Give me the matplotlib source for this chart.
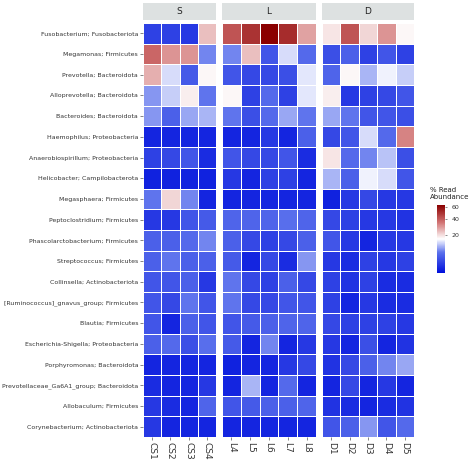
import numpy as np
import matplotlib.pyplot as plt
from matplotlib.colors import LinearSegmentedColormap, PowerNorm

taxa = ['Fusobacterium; Fusobacteriota', 'Megamonas; Firmicutes', 'Prevotella; Bacteroidota',
        'Alloprevotella; Bacteroidota', 'Bacteroides; Bacteroidota', 'Haemophilus; Proteobacteria',
        'Anaerobiospirillum; Proteobacteria', 'Helicobacter; Campilobacterota', 'Megasphaera; Firmicutes',
        'Peptoclostridium; Firmicutes', 'Phascolarctobacterium; Firmicutes', 'Streptococcus; Firmicutes',
        'Collinsella; Actinobacteriota', '[Ruminococcus]_gnavus_group; Firmicutes', 'Blautia; Firmicutes',
        'Escherichia-Shigella; Proteobacteria', 'Porphyromonas; Bacteroidota',
        'Prevotellaceae_Ga6A1_group; Bacteroidota', 'Allobaculum; Firmicutes',
        'Corynebacterium; Actinobacteriota']

s_samples = ['CS1', 'CS2', 'CS3', 'CS4']
l_samples = ['L4', 'L5', 'L6', 'L7', 'L8']
d_samples = ['D1', 'D2', 'D3', 'D4', 'D5']

s_values = [
    [1.5, 1.5, 1, 24], [38, 30, 30, 7], [26, 13, 3.5, 17], [8, 12, 18, 6], [8, 4, 9, 10],
    [0.3, 0.3, 0.3, 0.3], [1.5, 2, 3, 0.5], [0.2, 0.2, 0.2, 0.2], [6, 21, 7, 0.3], [1, 1, 3, 3.5],
    [4, 4, 5, 7], [4, 6, 4, 4], [3, 3, 4, 1], [3, 2, 6, 3], [3, 0.3, 4, 3],
    [4, 5, 2.5, 5.5], [0.3, 0.3, 0.3, 0.3], [0.5, 0.3, 0.3, 1], [1, 0.5, 0.3, 4.5], [1, 0.3, 0.3, 0.3]]
l_values = [
    [42, 50, 64, 52, 28], [7, 24, 3, 13, 5], [3, 2, 2, 2.5, 14], [17, 1.5, 5, 1.5, 14], [6, 2.5, 5, 9, 6],
    [0.3, 0.3, 1, 0.3, 4], [3, 2, 2, 3, 0.5], [1, 0.3, 1.5, 1.5, 0.3], [0.3, 0.3, 0.3, 0.3, 0.3],
    [4.5, 4.5, 4.5, 5.5, 4.5], [4, 2, 1.5, 2, 4], [3.5, 0.3, 2, 0.5, 8], [6, 2, 1.5, 4, 2],
    [6, 2, 2, 3, 3], [3, 3.5, 4, 4.5, 4.5], [3.5, 0.3, 7, 0.3, 1], [0.2, 0.3, 0.3, 1, 2],
    [0.3, 10, 0.3, 5, 0.3], [3, 3.5, 4, 4, 4.5], [0.3, 0.3, 0.3, 0.3, 0.3]]
d_values = [
    [19, 42, 21, 30, 17], [2.5, 4, 1.5, 3, 1.5], [4.5, 17, 10, 15, 12], [18, 1, 1.5, 2, 3],
    [9, 6, 3, 3, 2.5], [2, 3, 13, 5, 33], [19, 5, 7, 11, 2.5], [10, 4, 15, 13, 3],
    [0.2, 1, 2, 1, 1], [2, 1.5, 1, 1, 0.8], [3, 1, 0.3, 1, 1], [1, 0.5, 1.5, 1, 1.5],
    [1.5, 0.8, 1.5, 0.5, 0.5], [1.5, 0.3, 1, 0.5, 0.5], [2, 1.5, 1.5, 1.5, 1],
    [1, 0.3, 2.5, 0.3, 0.8], [0.8, 2, 4, 7, 9], [0.3, 2, 0.3, 1, 0.3], [0.8, 0.5, 0.3, 0.5, 0.8],
    [3, 4, 8, 3, 5]]

cmap = LinearSegmentedColormap.from_list(
    'bwr2', [(0, '#0010dc'), (0.3, '#5a70ec'), (0.5, '#ffffff'), (0.75, '#d07070'), (1, '#8b0000')])
norm = PowerNorm(0.5, vmin=0, vmax=64)

fig = plt.figure(figsize=(4.74, 4.67), dpi=100)
W, H = 474, 467
panels = [('S', s_samples, s_values, 143, 216), ('L', l_samples, l_values, 222, 316),
          ('D', d_samples, d_values, 322, 414)]
top, bottom = 23, 437
for name, samples, vals, x0, x1 in panels:
    ax = fig.add_axes([x0 / W, 1 - bottom / H, (x1 - x0) / W, (bottom - top) / H])
    data = np.array(vals)
    mesh = ax.pcolormesh(data, cmap=cmap, norm=norm, edgecolor='white', linewidth=0.4)
    ax.set_ylim(len(taxa), 0)
    ax.set_xticks(np.arange(len(samples)) + 0.5)
    ax.set_xticklabels(samples, rotation=-90, fontsize=6.5, color='#333333')
    if name == 'S':
        ax.set_yticks(np.arange(len(taxa)) + 0.5)
        ax.set_yticklabels(taxa, fontsize=4.5, color='#333333')
    else:
        ax.set_yticks([])
    ax.tick_params(length=2, width=0.5, color='#555555', pad=1.5)
    for sp in ax.spines.values():
        sp.set_visible(False)
    strip = fig.add_axes([x0 / W, 1 - 20 / H, (x1 - x0) / W, 17 / H])
    strip.set_facecolor('#dde1e1')
    strip.set_xticks([])
    strip.set_yticks([])
    for sp in strip.spines.values():
        sp.set_visible(False)
    strip.text(0.5, 0.5, name, ha='center', va='center', fontsize=6.5, color='#222222')

cax = fig.add_axes([437 / W, 1 - 273 / H, 8 / W, 68 / H])
cb = fig.colorbar(mesh, cax=cax, ticks=[20, 40, 60])
cb.outline.set_visible(False)
cb.ax.tick_params(labelsize=4.5, length=1.5, width=0.4, colors='#333333')
fig.text(430 / W, 1 - 200 / H, '% Read\nAbundance', fontsize=5, color='#222222', va='bottom')

fig.savefig('out.png', dpi=100)
